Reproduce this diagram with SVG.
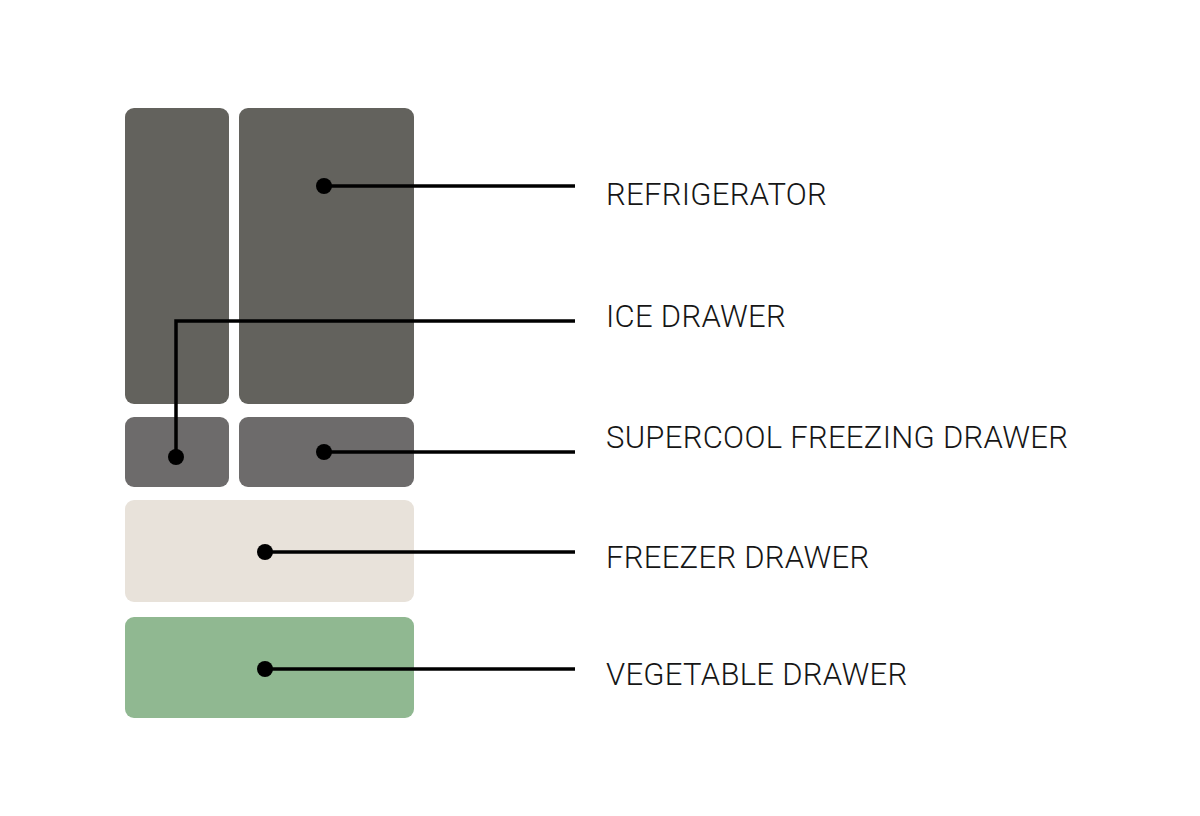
<svg xmlns="http://www.w3.org/2000/svg" width="1200" height="816" viewBox="0 0 1200 816">
<style>
.lbl{font-family:Roboto,"Liberation Sans",sans-serif;font-weight:300;font-size:31px;fill:#161616;letter-spacing:0.3px}
.ln{fill:none;stroke:#000;stroke-width:3.5}
.dot{fill:#000}
</style>
<rect width="1200" height="816" fill="#fff"/>
<g id="refrigerator-left"><rect x="125" y="108" width="104" height="296" rx="9" fill="#63625d"/></g>
<g id="refrigerator"><rect x="239" y="108" width="175" height="296" rx="9" fill="#63625d"/></g>
<g id="ice-drawer"><rect x="125" y="417" width="104" height="70" rx="9" fill="#6d6b6b"/></g>
<g id="supercool-drawer"><rect x="239" y="417" width="175" height="70" rx="9" fill="#6d6b6b"/></g>
<g id="freezer-drawer"><rect x="125" y="500" width="289" height="102" rx="9" fill="#e8e2da"/></g>
<g id="vegetable-drawer"><rect x="125" y="617" width="289" height="101" rx="9" fill="#90b891"/></g>
<g id="connectors">
<path class="ln" d="M324 186H575"/><circle class="dot" cx="324" cy="186" r="8"/>
<path class="ln" d="M575 321H176V457"/><circle class="dot" cx="176" cy="457" r="8"/>
<path class="ln" d="M324 452H575"/><circle class="dot" cx="324" cy="452" r="8"/>
<path class="ln" d="M265 552H575"/><circle class="dot" cx="265" cy="552" r="8"/>
<path class="ln" d="M265 669H575"/><circle class="dot" cx="265" cy="669" r="8"/>
</g>
<g id="labels">
<text class="lbl" x="606" y="205">REFRIGERATOR</text>
<text class="lbl" x="606" y="327">ICE DRAWER</text>
<text class="lbl" x="606" y="448">SUPERCOOL FREEZING DRAWER</text>
<text class="lbl" x="606" y="568">FREEZER DRAWER</text>
<text class="lbl" x="606" y="685">VEGETABLE DRAWER</text>
</g>
</svg>
